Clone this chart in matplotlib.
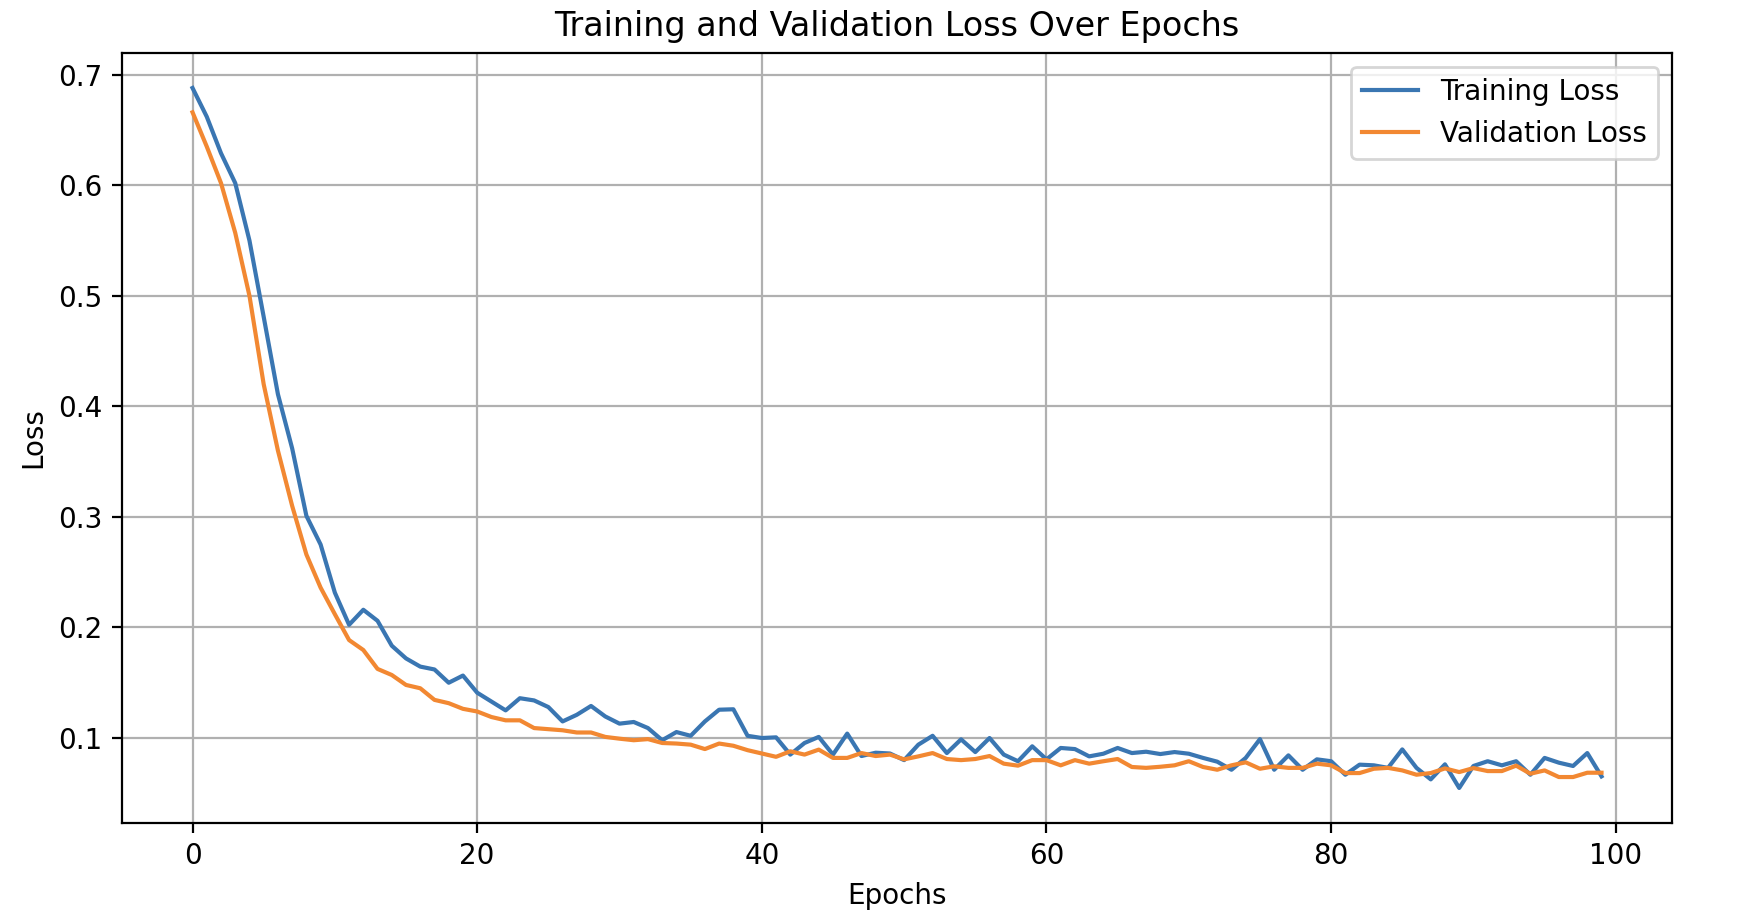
import matplotlib
matplotlib.use("Agg")
import matplotlib.pyplot as plt
import numpy as np

epochs = list(range(100))

training_loss = [
    0.688, 0.662, 0.629, 0.602, 0.550, 0.481, 0.411, 0.362, 0.301, 0.275,
    0.2315, 0.2024, 0.216, 0.206, 0.1835, 0.172, 0.1646, 0.162, 0.150, 0.1565,
    0.141, 0.133, 0.125, 0.136, 0.134, 0.128, 0.115, 0.121, 0.129, 0.1195,
    0.113, 0.1145, 0.109, 0.098, 0.1054, 0.102, 0.115, 0.1256, 0.126, 0.102,
    0.100, 0.1006, 0.085, 0.0955, 0.101, 0.085, 0.104, 0.0837, 0.0867, 0.0860,
    0.080, 0.094, 0.102, 0.0864, 0.0988, 0.0873, 0.100, 0.085, 0.079, 0.0925,
    0.0807, 0.091, 0.090, 0.0834, 0.0858, 0.091, 0.0864, 0.0876, 0.0855, 0.0873,
    0.0858, 0.082, 0.0786, 0.0713, 0.082, 0.099, 0.0713, 0.0843, 0.0713, 0.0807,
    0.079, 0.0668, 0.0759, 0.0753, 0.073, 0.0897, 0.073, 0.0626, 0.0762, 0.0548,
    0.0747, 0.079, 0.0753, 0.079, 0.0668, 0.082, 0.0777, 0.0747, 0.0864, 0.0653,
]

validation_loss = [
    0.666, 0.635, 0.602, 0.557, 0.500, 0.420, 0.360, 0.310, 0.266, 0.236,
    0.212, 0.1886, 0.1796, 0.1625, 0.157, 0.148, 0.145, 0.1345, 0.1315, 0.1264,
    0.124, 0.119, 0.116, 0.116, 0.109, 0.108, 0.107, 0.105, 0.105, 0.101,
    0.0994, 0.098, 0.099, 0.0955, 0.095, 0.094, 0.090, 0.095, 0.093, 0.089,
    0.086, 0.083, 0.088, 0.085, 0.0895, 0.082, 0.082, 0.0864, 0.0837, 0.085,
    0.0807, 0.0834, 0.0864, 0.081, 0.080, 0.081, 0.0837, 0.0768, 0.075, 0.080,
    0.080, 0.0753, 0.080, 0.0768, 0.079, 0.081, 0.0738, 0.073, 0.0740, 0.0753,
    0.079, 0.0738, 0.0713, 0.0753, 0.078, 0.0722, 0.0744, 0.073, 0.073, 0.0768,
    0.0753, 0.0683, 0.0683, 0.0722, 0.073, 0.0707, 0.0668, 0.0683, 0.0725, 0.0692,
    0.0728, 0.0701, 0.0701, 0.075, 0.0677, 0.0707, 0.0647, 0.0647, 0.0686, 0.0686,
]

DPI = 200
fig = plt.figure(figsize=(1744 / DPI, 918 / DPI), dpi=DPI)
ax = fig.add_axes([0.0700, 0.1035, 0.9587 - 0.0700, 0.9423 - 0.1035])

ax.plot(epochs, training_loss, label="Training Loss", color="#3a76b2")
ax.plot(epochs, validation_loss, label="Validation Loss", color="#f28832")
ax.set_title("Training and Validation Loss Over Epochs", fontsize=12)
ax.set_xlabel("Epochs")
ax.set_ylabel("Loss")
ax.legend(loc="upper right")
ax.grid(True)

fig.savefig("out.png", dpi=DPI)
